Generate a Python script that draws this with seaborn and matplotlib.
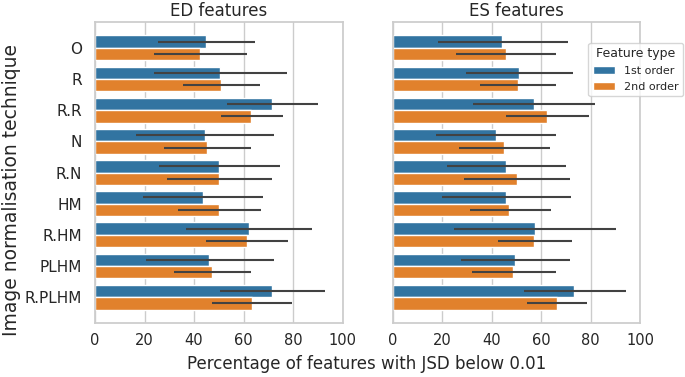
import numpy as np
import pandas as pd
import matplotlib
matplotlib.use("Agg")
import matplotlib.pyplot as plt
import seaborn as sns

techniques = ["O", "R", "R.R", "N", "R.N", "HM", "R.HM", "PLHM", "R.PLHM"]
feature_types = ["1st order", "2nd order"]
panels = ["ED features", "ES features"]

# ED features
ed_1st = [44.7, 50.5, 71.5, 44.4, 50.0, 43.5, 62.1, 46.2, 71.5]
ed_1st_lo = [25.5, 23.8, 53.5, 16.7, 25.9, 19.4, 36.9, 20.6, 50.6]
ed_1st_hi = [64.5, 77.6, 90.0, 72.4, 74.6, 67.9, 87.6, 72.2, 93.1]
ed_2nd = [42.4, 51.0, 63.2, 45.4, 50.2, 50.2, 61.3, 47.1, 63.3]
ed_2nd_lo = [23.8, 35.7, 50.8, 28.0, 29.1, 33.5, 45.0, 31.8, 47.4]
ed_2nd_hi = [61.3, 66.7, 76.1, 63.0, 71.6, 67.2, 77.9, 63.2, 79.7]

# ES features
es_1st = [44.3, 50.9, 56.9, 41.6, 45.9, 45.7, 57.5, 49.3, 73.4]
es_1st_lo = [18.2, 29.5, 32.3, 17.6, 22.1, 19.8, 24.9, 27.5, 53.1]
es_1st_hi = [70.9, 72.8, 81.8, 66.0, 70.2, 72.0, 90.4, 71.6, 94.2]
es_2nd = [45.7, 50.5, 62.3, 44.9, 50.1, 47.1, 57.1, 48.8, 66.2]
es_2nd_lo = [25.7, 35.4, 45.9, 26.8, 28.8, 31.1, 42.5, 32.0, 54.1]
es_2nd_hi = [66.0, 66.0, 79.3, 63.5, 71.7, 63.9, 72.4, 66.0, 78.5]

xticks = [0, 20, 40, 60, 80, 100]

rows = []
series = {
    "ED features": [(ed_1st, ed_1st_lo, ed_1st_hi), (ed_2nd, ed_2nd_lo, ed_2nd_hi)],
    "ES features": [(es_1st, es_1st_lo, es_1st_hi), (es_2nd, es_2nd_lo, es_2nd_hi)],
}
for panel in panels:
    for ft, (vals, los, his) in zip(feature_types, series[panel]):
        for t, v, lo, hi in zip(techniques, vals, los, his):
            rows.append(dict(panel=panel, technique=t, ftype=ft, value=v, lo=lo, hi=hi))
df = pd.DataFrame(rows)

sns.set_theme(style="whitegrid")
plt.rcParams["font.family"] = ["DejaVu Sans"]

fig = plt.figure(figsize=(6.85, 3.77), dpi=100)
ax1 = fig.add_axes([95 / 685, 1 - 323.3 / 377, 247.5 / 685, 301.6 / 377])
ax2 = fig.add_axes([392.7 / 685, 1 - 323.3 / 377, 247.5 / 685, 301.6 / 377], sharey=ax1)
palette = sns.color_palette("tab10", 2)

for ax, panel in zip([ax1, ax2], panels):
    sub = df[df.panel == panel]
    sns.barplot(data=sub, y="technique", x="value", hue="ftype", order=techniques,
                hue_order=feature_types, palette=palette, errorbar=None, orient="h",
                saturation=0.75, ax=ax, legend=(panel == "ES features"))
    # error bars at the bar centres given by seaborn's layout
    bars = [p for p in ax.patches if p.get_height() > 0]
    k = 0
    for ft in feature_types:
        s = sub[sub.ftype == ft].set_index("technique").loc[techniques]
        for t in techniques:
            p = bars[k]
            yc = p.get_y() + p.get_height() / 2
            ax.plot([s.loc[t, "lo"], s.loc[t, "hi"]], [yc, yc], color=".26", lw=1.5,
                    solid_capstyle="butt", zorder=3)
            k += 1
    ax.set_xlim(0, 100)
    ax.set_xticks(xticks)
    ax.tick_params(axis="x", labelsize=10.5, pad=1)
    ax.tick_params(axis="y", labelsize=11)
    ax.set_title(panel, fontsize=12, pad=4)
    ax.set_xlabel("")
    ax.set_ylabel("")

ax2.tick_params(axis="y", labelleft=False)

leg = ax2.get_legend()
leg.remove()
handles, labels = ax2.get_legend_handles_labels()
fig.legend(handles[:2], labels[:2], title="Feature type", loc="upper right",
           bbox_to_anchor=(683 / 685, 1 - 43 / 377), fontsize=8, title_fontsize=9,
           frameon=True, borderaxespad=0)

fig.text(12 / 685, 1 - 190 / 377, "Image normalisation technique", rotation=90,
         ha="center", va="center", fontsize=13.5)
fig.text(367 / 685, 1 - 364 / 377, "Percentage of features with JSD below 0.01",
         ha="center", va="center", fontsize=12)

fig.savefig("out.png", dpi=100)
